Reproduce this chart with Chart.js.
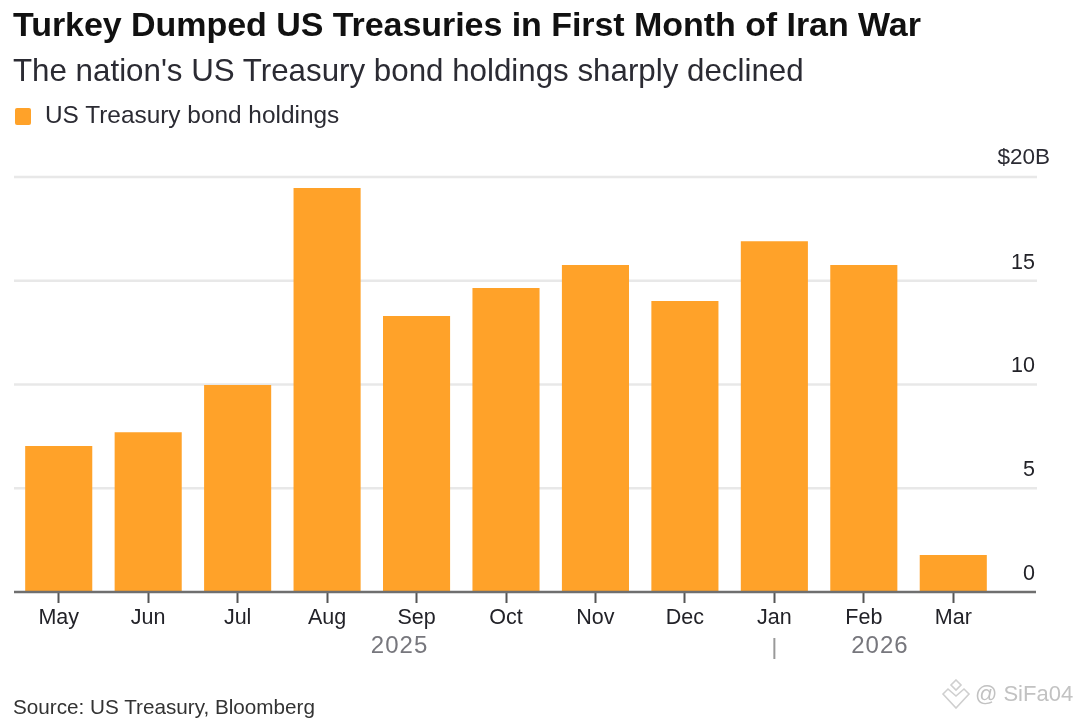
<!DOCTYPE html>
<html><head><meta charset="utf-8">
<script src="https://cdn.jsdelivr.net/npm/chart.js@4"></script>
<style>
html,body{margin:0;padding:0;background:#fff;width:1080px;height:719px;overflow:hidden;font-family:"Liberation Sans",sans-serif}
#t,#s,#l,#f,#w{position:absolute;white-space:nowrap;line-height:1;transform:translateY(-50%)}
#t{left:13px;top:24px;font-size:34px;font-weight:700;color:#111;letter-spacing:-.05px}
#s{left:13px;top:71px;font-size:31.3px;color:#2b2b33}
#l{left:45px;top:115px;font-size:24.4px;color:#2b2b33}
#k{position:absolute;left:15px;top:108px;width:16px;height:17px;background:#ffa229;border-radius:2px}
#f{left:13px;top:707px;font-size:20.7px;color:#333}
#w{left:975px;top:694px;font-size:22px;color:#c2c2c2}
#c{position:absolute;left:0;top:0}
#i{position:absolute;left:941px;top:679px}
</style></head><body>
<canvas id="c" width="1080" height="719"></canvas>
<div id="t">Turkey Dumped US Treasuries in First Month of Iran War</div>
<div id="s">The nation's US Treasury bond holdings sharply declined</div>
<div id="k"></div><div id="l">US Treasury bond holdings</div>
<div id="f">Source: US Treasury, Bloomberg</div>
<svg id="i" width="30" height="30" viewBox="0 0 30 30" fill="none" stroke="#cfcfcf" stroke-width="1.6"><path d="M15 1 L20 6 L15 11 L10 6 Z M2 15 L7 10 L15 17 L23 10 L28 15 L15 29 Z"/></svg>
<div id="w">@ SiFa04</div>
<script>
const categories=["May","Jun","Jul","Aug","Sep","Oct","Nov","Dec","Jan","Feb","Mar"];
const holdings=[7.04,7.7,9.98,19.47,13.3,14.65,15.76,14.02,16.9,15.76,1.78];
const yTicks=[0,5,10,15,20];
const topLabel="$20B";
const yearLabels=[["2025",3.81],["2026",9.18]];
const yearSplit=8;
const frame={id:'frame',
  beforeDatasetsDraw(ch){
    const {ctx,scales:{y}}=ch;ctx.save();
    ctx.strokeStyle='#e8e8e8';ctx.lineWidth=2.5;
    yTicks.filter(v=>v>0).forEach(v=>{const p=y.getPixelForValue(v);
      ctx.beginPath();ctx.moveTo(14,p);ctx.lineTo(1037,p);ctx.stroke();});
    ctx.restore();
  },
  afterDatasetsDraw(ch){
    const {ctx,scales:{x,y}}=ch;ctx.save();
    const b=y.getPixelForValue(0);
    ctx.strokeStyle='#6f6f6f';ctx.lineWidth=2.5;
    ctx.beginPath();ctx.moveTo(14,b);ctx.lineTo(1036,b);ctx.stroke();
    ctx.font='22.5px "Liberation Sans"';ctx.fillStyle='#2b2b33';ctx.textAlign='right';ctx.textBaseline='middle';
    ctx.fillText(topLabel,1050,y.getPixelForValue(20)-19);
    ctx.font='24px "Liberation Sans"';ctx.letterSpacing='1px';ctx.fillStyle='#77777d';ctx.textAlign='center';
    yearLabels.forEach(([t,p])=>ctx.fillText(t,x.getPixelForValue(p),646));
    ctx.strokeStyle='#999';ctx.lineWidth=2;const sx=x.getPixelForValue(yearSplit);
    ctx.beginPath();ctx.moveTo(sx,638);ctx.lineTo(sx,659);ctx.stroke();
    ctx.restore();
  }};
new Chart(document.getElementById('c'),{
  type:'bar',
  data:{labels:categories,datasets:[{data:holdings,backgroundColor:'#ffa229',categoryPercentage:.75,barPercentage:1}]},
  plugins:[frame],
  options:{responsive:false,animation:false,
    layout:{padding:{left:14,top:177,right:45,bottom:0}},
    plugins:{legend:{display:false},tooltip:{enabled:false}},
    scales:{
      x:{grid:{display:true,offset:false,drawOnChartArea:false,drawTicks:true,tickLength:11,color:'#555',tickWidth:2},border:{display:false},
        afterFit(a){a.height=127;},
        ticks:{color:'#222228',font:{size:21.5},padding:2,maxRotation:0,autoSkip:false}},
      y:{position:'right',min:0,max:20,afterBuildTicks(a){a.ticks=yTicks.map(v=>({value:v}));},
        grid:{display:false,drawTicks:false},border:{display:false},
        afterFit(a){a.width=37;},
        ticks:{color:'#222228',font:{size:21.5},padding:0,crossAlign:'far',labelOffset:-18,
          callback:v=>v===20?'':String(v)}}
    }}
});
</script></body></html>
